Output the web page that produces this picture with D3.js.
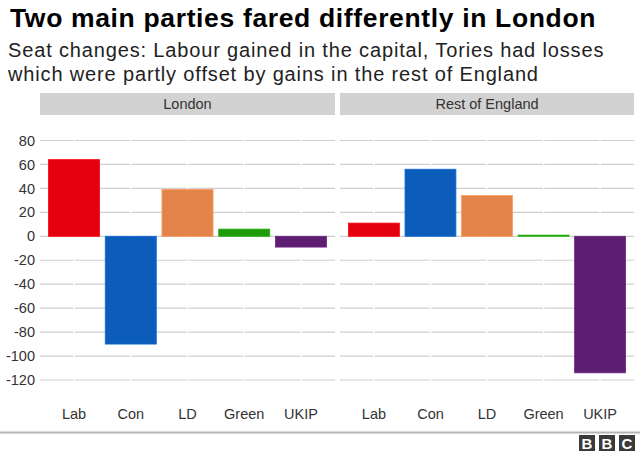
<!DOCTYPE html>
<html>
<head>
<meta charset="utf-8">
<script src="https://cdn.jsdelivr.net/npm/d3@7"></script>
<style>
  body { margin: 0; background: #fff; }
  text { font-family: "Liberation Sans", Arial, Helvetica, sans-serif; }
</style>
</head>
<body>
<div id="chart"></div>
<script>
const parties = ["Lab", "Con", "LD", "Green", "UKIP"];
const regions = ["London", "Rest of England"];
const londonChanges = [64, -90, 39, 6, -9];
const restChanges = [11, 56, 34, 1, -114];
const partyColors = ["#e4000f", "#0c5dbb", "#e3844b", "#1f9a0a", "#5d1d71"];
const yTicks = [80, 60, 40, 20, 0, -20, -40, -60, -80, -100, -120];

const width = 640, height = 455;

const svg = d3.select("#chart")
  .append("svg")
  .attr("width", width)
  .attr("height", height);

// titles
svg.append("text")
  .attr("x", 10).attr("y", 27)
  .attr("font-size", 26.5).attr("font-weight", "bold")
  .attr("letter-spacing", 0.65)
  .attr("fill", "#000")
  .text("Two main parties fared differently in London");

svg.append("text")
  .attr("x", 8).attr("y", 57)
  .attr("font-size", 20).attr("fill", "#222")
  .attr("letter-spacing", 0.85)
  .text("Seat changes: Labour gained in the capital, Tories had losses");

svg.append("text")
  .attr("x", 8).attr("y", 81)
  .attr("font-size", 20).attr("fill", "#222")
  .attr("letter-spacing", 0.85)
  .text("which were partly offset by gains in the rest of England");

const panelX = [[40, 335], [340, 634]],
  stripTop = 93, stripH = 22;

const y = d3.scaleLinear()
  .domain([-120, 80])
  .range([380, 140.5]);

const panelData = [londonChanges, restChanges];

regions.forEach((region, p) => {
  const [x0, x1] = panelX[p];
  const g = svg.append("g");

  // strip
  g.append("rect")
    .attr("x", x0).attr("y", stripTop)
    .attr("width", x1 - x0).attr("height", stripH)
    .attr("fill", "#d2d2d2");
  g.append("text")
    .attr("x", (x0 + x1) / 2).attr("y", stripTop + 16)
    .attr("text-anchor", "middle")
    .attr("font-size", 14.5).attr("fill", "#333")
    .text(region);

  // ggplot-like discrete expansion of 0.6 units
  const unit = (x1 - x0) / (parties.length - 1 + 1.2);
  const x = d3.scalePoint()
    .domain(parties)
    .range([x0 + 0.6 * unit, x1 - 0.6 * unit]);
  const barW = 0.9 * unit;

  // horizontal grid
  g.selectAll(".grid")
    .data(yTicks)
    .join("line")
    .attr("x1", x0).attr("x2", x1)
    .attr("y1", d => y(d)).attr("y2", d => y(d))
    .attr("stroke", "#cfcfcf")
    .attr("stroke-width", 1.2);

  // white vertical lines at category centres
  g.selectAll(".vgrid")
    .data(parties)
    .join("line")
    .attr("x1", d => x(d)).attr("x2", d => x(d))
    .attr("y1", y(80) - 3).attr("y2", y(-120) + 3)
    .attr("stroke", "#fff")
    .attr("stroke-width", 1.5);

  // bars
  g.selectAll(".bar")
    .data(parties)
    .join("rect")
    .attr("x", d => x(d) - barW / 2)
    .attr("width", barW)
    .attr("y", (d, i) => y(Math.max(0, panelData[p][i])))
    .attr("height", (d, i) => Math.abs(y(panelData[p][i]) - y(0)))
    .attr("fill", (d, i) => partyColors[i])
    .attr("stroke", (d, i) => d3.color(partyColors[i]).brighter(0.4))
    .attr("stroke-width", 0.8);

  // category labels
  g.selectAll(".cat")
    .data(parties)
    .join("text")
    .attr("x", d => x(d))
    .attr("y", 419)
    .attr("text-anchor", "middle")
    .attr("font-size", 14.5).attr("fill", "#333")
    .text(d => d);
});

// y axis labels
const axis = svg.append("g")
  .attr("transform", "translate(35,0)")
  .call(d3.axisLeft(y).tickValues(yTicks).tickSize(0).tickPadding(0)
    .tickFormat(d => String(d)));
axis.select(".domain").remove();
axis.selectAll("text")
  .attr("font-size", 14.5)
  .attr("font-family", "Liberation Sans, Arial, sans-serif")
  .attr("fill", "#333");

// bottom rule
svg.append("line")
  .attr("x1", 0).attr("x2", width)
  .attr("y1", 432.5).attr("y2", 432.5)
  .attr("stroke", "#b5b5b5").attr("stroke-width", 2);

// BBC logo
const logo = svg.append("g");
["B", "B", "C"].forEach((ch, i) => {
  const bx = 579 + i * 20;
  logo.append("rect")
    .attr("x", bx).attr("y", 435)
    .attr("width", 16).attr("height", 16)
    .attr("fill", "#3a3a3a");
  logo.append("text")
    .attr("x", bx + 8).attr("y", 449)
    .attr("text-anchor", "middle")
    .attr("font-size", 15).attr("font-weight", "bold")
    .attr("fill", "#fff")
    .text(ch);
});
</script>
</body>
</html>
